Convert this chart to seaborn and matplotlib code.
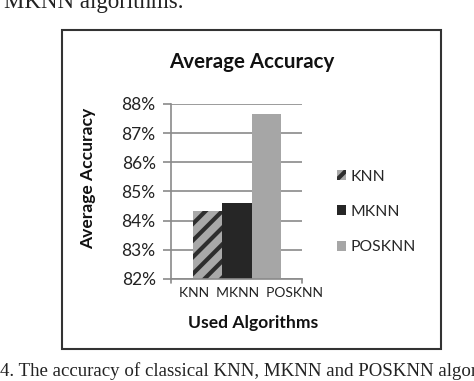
import matplotlib
matplotlib.use("Agg")
import matplotlib.pyplot as plt
import matplotlib.patches as mpatches
import seaborn as sns
import pandas as pd

algorithms = ["KNN", "MKNN", "POSKNN"]
accuracy = [84.33, 84.60, 87.66]
yticks = [82, 83, 84, 85, 86, 87, 88]
colors = ["#a9a9a9", "#262626", "#a6a6a6"]

sns.set_theme(style="white")
plt.rcParams["font.family"] = ["Lato", "DejaVu Sans"]
plt.rcParams["hatch.linewidth"] = 3.0
plt.rcParams["hatch.color"] = "#2e2e2e"

W, H = 474, 381
fig = plt.figure(figsize=(W / 100, H / 100), dpi=100)
fig.patch.set_facecolor("white")

ax = fig.add_axes([171 / W, 1 - 279 / H, (302 - 171) / W, (279 - 104) / H])

df = pd.DataFrame({"alg": algorithms, "acc": accuracy})
sns.barplot(data=df, x="alg", y="acc", hue="alg", palette=colors,
            width=1.0, legend=False, ax=ax, saturation=1)

bars = ax.patches
for b in bars:
    b.set_linewidth(0)
bars[0].set_hatch("//")
bars[0].set_edgecolor("#2e2e2e")

ax.set_ylim(82, 88)
ax.set_xlim(-1.25, 3.22)
ax.set_yticks(yticks)
ax.set_yticklabels([f"{v}%" for v in yticks], fontsize=12.5, color="#222222")
ax.set_xticks([])
ax.set_xlabel("")
ax.set_ylabel("")
ax.yaxis.grid(True, color="#8a8a8a", linewidth=1.2)
ax.set_axisbelow(True)
ax.tick_params(axis="y", which="major", left=True, length=6, width=1.2,
               color="#8a8a8a", pad=5)
for s in ["top", "right"]:
    ax.spines[s].set_visible(False)
for s in ["left", "bottom"]:
    ax.spines[s].set_color("#8a8a8a")
    ax.spines[s].set_linewidth(1.2)

# category label under axis
fig.text(251 / W, 1 - 293 / H, "KNN  MKNN  POSKNN", ha="center", va="center",
         fontsize=10, color="#222222")
# small vertical ticks at the ends of x-axis
ax.plot([-1.25, -1.25], [82, 81.85], color="#8a8a8a", lw=1.2, clip_on=False)
ax.plot([3.22, 3.22], [82, 81.85], color="#8a8a8a", lw=1.2, clip_on=False)

fig.text(252 / W, 1 - 62 / H, "Average Accuracy", ha="center", va="center",
         fontsize=14.8, fontweight="bold", color="#111111")
fig.text(253 / W, 1 - 323 / H, "Used Algorithms", ha="center", va="center",
         fontsize=12.6, fontweight="bold", color="#111111")
fig.text(88 / W, 1 - 178 / H, "Average Accuracy", ha="center", va="center",
         rotation=90, fontsize=12.6, fontweight="bold", color="#111111")

handles = [mpatches.Patch(facecolor=colors[0], hatch="//", edgecolor="#2e2e2e",
                          linewidth=0, label=algorithms[0]),
           mpatches.Patch(facecolor=colors[1], linewidth=0, label=algorithms[1]),
           mpatches.Patch(facecolor=colors[2], linewidth=0, label=algorithms[2])]
fig.legend(handles=handles, loc="center left",
           bbox_to_anchor=(336.5 / W, 1 - 212 / H), frameon=False,
           fontsize=11.3, handlelength=0.6, handleheight=0.6, handletextpad=0.3,
           labelspacing=1.35, borderaxespad=0, borderpad=0)

# outer frame
fig.patches.append(mpatches.Rectangle((62 / W, 1 - 349 / H), (441 - 62) / W,
                                      (349 - 30) / H, transform=fig.transFigure,
                                      fill=False, edgecolor="#333333", lw=1.5))

# surrounding caption text
fig.text(183 / W, 1 - 8 / H, "MKNN algorithms.", ha="right", va="baseline",
         fontsize=16.5, family=["Liberation Serif"], color="#222222")
fig.text(0.0, 1 - 376 / H, "4. The accuracy of classical KNN, MKNN and POSKNN algor",
         ha="left", va="baseline", fontsize=13.6, family=["Liberation Serif"],
         color="#222222")

fig.savefig("out.png", dpi=100)
